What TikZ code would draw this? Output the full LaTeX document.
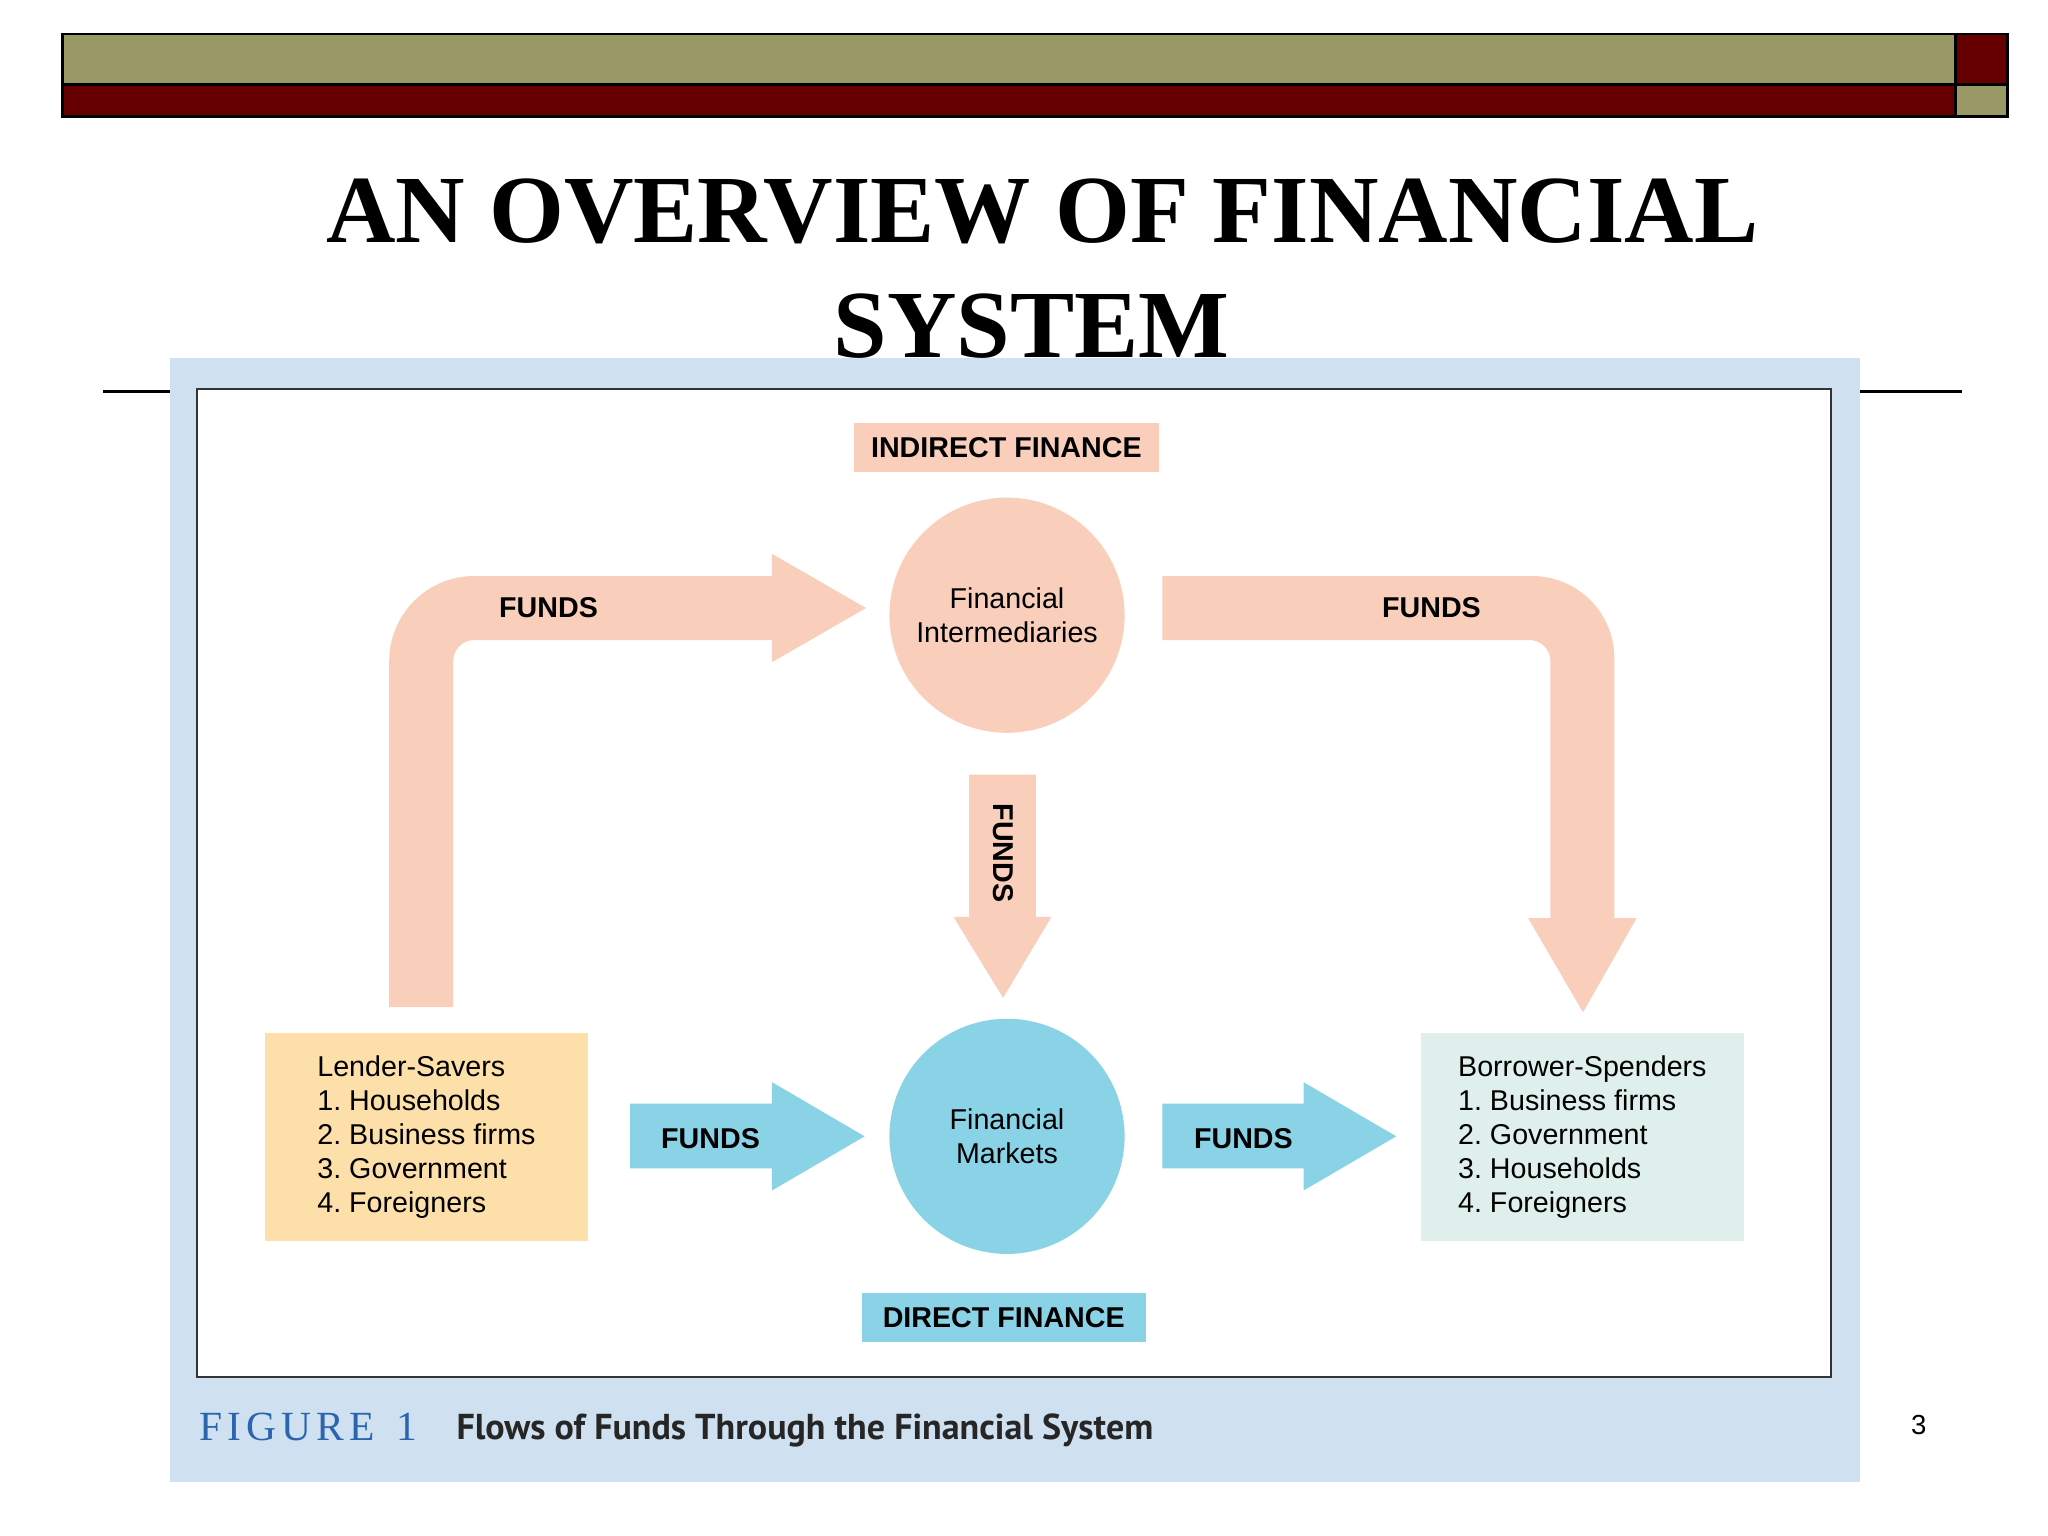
\documentclass[tikz,border=0pt]{standalone}
\usepackage{fontspec}
\setmainfont{Liberation Sans}
\newfontfamily\titlefont{Liberation Serif}
\newfontfamily\capfont{PT Sans}
\usetikzlibrary{positioning}
\definecolor{olivebar}{HTML}{999966}
\definecolor{maroonbar}{HTML}{660000}
\definecolor{panelblue}{HTML}{CFE0F1}
\definecolor{salmon}{HTML}{F9CFBC}
\definecolor{skyblue}{HTML}{8AD3E6}
\definecolor{lendfill}{HTML}{FDDFAA}
\definecolor{borrowfill}{HTML}{DFF0EC}
\definecolor{figblue}{HTML}{2B64AF}
\newcommand{\lsp}{\kern1.4pt}
\frenchspacing

\begin{document}
\begin{tikzpicture}[x=0.0125cm, y=-0.0125cm,
    bar/.style={draw=black, line width=0.8pt},
    tag/.style={inner sep=0pt, font=\fontsize{7.8}{9.25}\selectfont\bfseries},
    ball/.style={circle, minimum size=22.5mm, inner sep=0pt, align=center, font=\fontsize{7.8}{9.25}\selectfont},
    group/.style={minimum width=30.875mm, minimum height=19.875mm, inner sep=0pt, align=left, font=\fontsize{7.8}{9.25}\selectfont},
    label/.style={minimum height=4.7mm, inner sep=0pt, font=\fontsize{7.8}{9.25}\selectfont\bfseries},
  ]
  \useasboundingbox (0,0) rectangle (1568,1176);
  \draw[bar, fill=olivebar] (48,26) rectangle (1497,65);
  \draw[bar, fill=maroonbar] (48,65) rectangle (1497,89);
  \draw[bar, fill=maroonbar] (1497,26) rectangle (1537,65);
  \draw[bar, fill=olivebar] (1497,65) rectangle (1537,89);
  \node[anchor=base, font=\titlefont\fontsize{26.2}{31}\selectfont\bfseries] (title1) at (798,186) {AN OVERVIEW OF FINANCIAL};
  \node[anchor=base, font=\titlefont\fontsize{26.2}{31}\selectfont\bfseries] (title2) at (790,274) {SYSTEM};
  \draw[line width=0.75pt] (79,300) -- (1502,300);
  \fill[panelblue] (130,274) rectangle (1424,1135);
  \draw[fill=white, draw=black!80, line width=0.6pt] (151,298) rectangle (1402,1054);

  \node[label, fill=salmon, minimum width=29.125mm] (indirect) at (770.5,342.5) {INDIRECT FINANCE};
  \node[ball, fill=salmon] (inter) at (771,471) {Financial\\Intermediaries};
  \node[ball, fill=skyblue] (markets) at (771,870) {Financial\\Markets};
  \node[label, fill=skyblue, minimum width=27.125mm] (direct) at (768.5,1009) {DIRECT FINANCE};
  \node[group, fill=lendfill] (lender) at (326.5,870.5) {Lender-Savers\\1. Households\\2. Business firms\\3. Government\\4. Foreigners};
  \node[group, fill=borrowfill] (borrower) at (1211.5,870.5) {Borrower-Spenders\\1. Business firms\\2. Government\\3. Households\\4. Foreigners};

  % indirect route
  \fill[salmon] (298,771) -- (298,506) arc[start angle=180, end angle=270, radius=65]
    -- (591,441) -- (591,424) -- (663,465.5) -- (591,507) -- (591,490) -- (363,490)
    arc[start angle=270, end angle=180, radius=16] -- (347,771) -- cycle;
  \fill[salmon] (890,441) -- (1173,441) arc[start angle=270, end angle=360, radius=63]
    -- (1236,703) -- (1253,703) -- (1212,775) -- (1170,703) -- (1187,703) -- (1187,506)
    arc[start angle=0, end angle=-90, radius=16] -- (890,490) -- cycle;
  \fill[salmon] (742,593) -- (793,593) -- (793,702) -- (805,702) -- (768,764) -- (730,702) -- (742,702) -- cycle;
  % direct route
  \fill[skyblue] (482.5,845) -- (591,845) -- (591,828.5) -- (662,870) -- (591,911.5) -- (591,894.5) -- (482.5,894.5) -- cycle;
  \fill[skyblue] (890,845) -- (998,845) -- (998,828.5) -- (1069,870) -- (998,911.5) -- (998,894.5) -- (890,894.5) -- cycle;

  \node[tag] (f1) at (420,465) {FUNDS};
  \node[tag] (f2) at (1096,465) {FUNDS};
  \node[tag, rotate=-90] (f3) at (768,653) {FUNDS};
  \node[tag] (f4) at (544,872) {FUNDS};
  \node[tag] (f5) at (952,872) {FUNDS};

  \node[anchor=base west, inner sep=0pt, text=figblue, font=\titlefont\fontsize{11.3}{13}\selectfont] (fig) at (152,1103) {F\lsp I\lsp G\lsp U\lsp R\lsp E\hspace{6pt}1};
  \node[anchor=base west, inner sep=0pt, text=black!85, font=\capfont\fontsize{9.8}{11}\selectfont\bfseries] (caption) at (349,1102) {Flows of Funds Through the Financial System};
  \node[inner sep=0pt, font=\fontsize{7.5}{9}\selectfont] (page) at (1469,1091) {3};
\end{tikzpicture}
\end{document}
